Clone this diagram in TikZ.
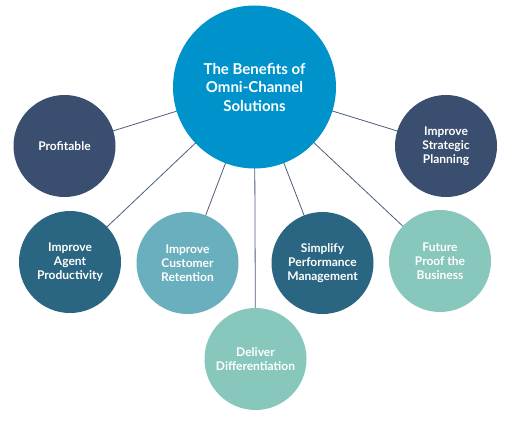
\documentclass[tikz,border=0pt]{standalone}
\usepackage{fontspec}
\setmainfont{Lato}
\definecolor{cmain}{HTML}{0093CB}
\definecolor{cnavy}{HTML}{3A4E6F}
\definecolor{cteal}{HTML}{2A6681}
\definecolor{clteal}{HTML}{6AAFBD}
\definecolor{cmint}{HTML}{88C7BC}
\definecolor{cline}{HTML}{4D5D7A}
\begin{document}
\begin{tikzpicture}[x=1pt,y=-1pt,
  bub/.style={circle,minimum size=102pt,inner sep=0pt,text=white,align=center,font=\fontsize{12}{14}\selectfont\bfseries},
  hub/.style={circle,minimum size=163pt,inner sep=0pt,fill=cmain,text=white,align=center,font=\fontsize{15}{18.5}\selectfont\bfseries},
  link/.style={draw=cline,line width=0.8pt}]
\useasboundingbox (0,0) rectangle (510,425);
\coordinate (hc) at (254.5,87);
\coordinate (p1) at (64.5,146);
\coordinate (p2) at (70,262);
\coordinate (p3) at (187.5,263);
\coordinate (p4) at (255.5,359);
\coordinate (p5) at (322.5,263);
\coordinate (p6) at (440,261);
\coordinate (p7) at (446,146);
\foreach \p in {p1,p2,p3,p4,p5,p6,p7} \draw[link] (hc) -- (\p);
\node[hub] (hub) at (hc) {The Benefits of\\Omni-Channel\\Solutions};
\node[bub,fill=cnavy] (b1) at (p1) {Profitable};
\node[bub,fill=cteal] (b2) at (p2) {Improve\\Agent\\Productivity};
\node[bub,fill=clteal] (b3) at (p3) {Improve\\Customer\\Retention};
\node[bub,fill=cmint] (b4) at (p4) {Deliver\\Differentiation};
\node[bub,fill=cteal] (b5) at (p5) {Simplify\\Performance\\Management};
\node[bub,fill=cmint] (b6) at (p6) {Future\\Proof the\\Business};
\node[bub,fill=cnavy] (b7) at (p7) {Improve\\Strategic\\Planning};
\end{tikzpicture}
\end{document}
